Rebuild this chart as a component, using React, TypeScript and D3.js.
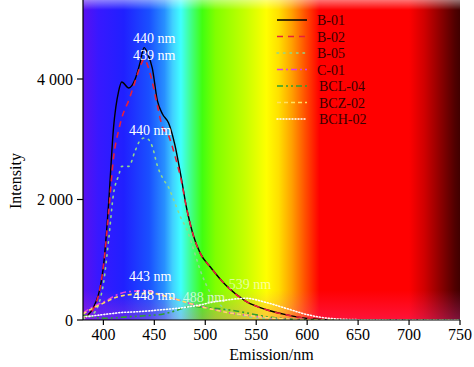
import React from "react";
import * as d3 from "d3";

// wavelength grid (nm) shared by all series
const wavelengths = [380, 390, 400, 405, 410, 415, 418, 425, 431, 436, 440, 444, 448, 453, 458, 464, 470, 476, 482, 488, 495, 505, 520, 540, 560, 580, 600, 620, 650, 700, 750];

const b01 = [30, 200, 880, 1900, 3200, 3800, 3950, 3850, 3990, 4270, 4520, 4400, 4180, 3640, 3420, 3270, 2920, 2400, 1830, 1420, 1110, 880, 580, 310, 170, 85, 25, 5, 0, 0, 0];
const b02 = [40, 180, 890, 1750, 2700, 3150, 3350, 3650, 3950, 4200, 4330, 4200, 3950, 3560, 3200, 3060, 2740, 2350, 1830, 1420, 1110, 880, 580, 310, 170, 85, 25, 5, 0, 0, 0];
const b05 = [20, 100, 600, 1300, 2100, 2400, 2550, 2550, 2800, 2980, 3020, 3000, 2880, 2560, 2360, 2200, 1950, 1700, 1500, 1200, 830, 450, 180, 60, 20, 5, 0, 0, 0, 0, 0];
const c01 = [120, 220, 300, 340, 390, 430, 450, 470, 480, 485, 490, 490, 470, 440, 410, 380, 350, 320, 290, 260, 230, 190, 130, 80, 40, 15, 5, 0, 0, 0, 0];
const bcl04 = [80, 50, 30, 30, 35, 40, 45, 55, 60, 65, 70, 75, 80, 85, 95, 120, 150, 185, 215, 225, 215, 200, 175, 120, 55, 20, 5, 0, 0, 0, 0];
const bcz02 = [100, 200, 280, 320, 360, 390, 400, 420, 430, 435, 440, 445, 445, 430, 410, 380, 350, 320, 290, 260, 225, 185, 130, 80, 40, 15, 5, 0, 0, 0, 0];
const bch02 = [50, 70, 90, 100, 110, 120, 125, 130, 135, 140, 145, 150, 155, 165, 170, 180, 190, 200, 215, 230, 250, 290, 330, 360, 290, 190, 90, 30, 5, 0, 0];

const seriesNames = ["B-01", "B-02", "B-05", "C-01", "BCL-04", "BCZ-02", "BCH-02"];
const seriesValues = [b01, b02, b05, c01, bcl04, bcz02, bch02];
const seriesColors = ["#000000", "#e8203a", "#8fd88f", "#e040e0", "#30a030", "#ffe060", "#ffffff"];
const seriesDash = ["", "6,5", "1.5,5", "6,3,2,3", "6,3,2,3,2,3", "4,3", "1,2"];

// peak annotations
const peakLabels = ["440 nm", "439 nm", "440 nm", "443 nm", "488 nm", "448 nm", "539 nm"];
const peakWl = [440, 439, 440, 443, 488, 448, 539];
const labelOffset = [[10, -5], [11, 1], [6, -3], [3, -9], [11, -4], [2, 7], [5, -9]];
const labelOpacity = [1, 1, 1, 1, 0.7, 1, 0.6];

const xTicks = [400, 450, 500, 550, 600, 650, 700, 750];
const yTicks = [0, 2000, 4000];

// visible spectrum backdrop: wavelength -> colour
const spectrumStops: [number, string][] = [
  [380, "#5a10f0"], [395, "#3818ff"], [420, "#2020ff"], [445, "#1a50ff"], [460, "#2890ff"],
  [468, "#40d0ff"], [476, "#40ffff"], [488, "#40ff70"], [497, "#40ff10"], [510, "#80ff00"],
  [540, "#c8ff00"], [560, "#ffff00"], [572, "#ffe000"], [585, "#ffa000"], [598, "#ff5000"],
  [612, "#ff0000"], [700, "#ff0000"], [715, "#d00000"], [730, "#900000"], [745, "#500000"], [750, "#400000"],
];

const W = 474, H = 367;
const left = 83, right = 460, top = 0, bottom = 320;
const font = "'Liberation Serif', 'Times New Roman', serif";

export default function App() {
  const x = d3.scaleLinear().domain([380, 750]).range([left, right]);
  const y = d3.scaleLinear().domain([0, 4000]).range([bottom, 79]);
  const fmt = d3.formatLocale({ decimal: ".", thousands: " ", grouping: [3], currency: ["", ""] }).format(",d");

  const line = d3.line<number>()
    .x((_, i) => x(wavelengths[i]))
    .y((d) => y(d))
    .curve(d3.curveMonotoneX);

  const plotW = right - left;

  return (
    <svg width={W} height={H} style={{ position: "absolute", left: 0, top: 0, background: "#fff" }} fontFamily={font}>
      <defs>
        <linearGradient id="spec" gradientUnits="userSpaceOnUse" x1={left} x2={right} y1={0} y2={0}>
          {spectrumStops.map(([wl, c], i) => (
            <stop key={i} offset={(x(wl) - left) / plotW} stopColor={c} />
          ))}
        </linearGradient>
        <linearGradient id="topGlow" x1="0" x2="0" y1="0" y2="1">
          <stop offset="0" stopColor="#ffffff" stopOpacity={0.45} />
          <stop offset="1" stopColor="#ffffff" stopOpacity={0} />
        </linearGradient>
        <linearGradient id="botGlow" x1="0" x2="0" y1="0" y2="1">
          <stop offset="0" stopColor="#ff40c0" stopOpacity={0} />
          <stop offset="1" stopColor="#ff40c0" stopOpacity={0.3} />
        </linearGradient>
        <clipPath id="plot">
          <rect x={left} y={top} width={plotW} height={bottom - top} />
        </clipPath>
      </defs>

      <rect x={left} y={top} width={plotW} height={bottom - top} fill="url(#spec)" />
      <rect x={left} y={top} width={plotW} height={10} fill="url(#topGlow)" />
      <rect x={left} y={bottom - 30} width={plotW} height={30} fill="url(#botGlow)" />

      <g clipPath="url(#plot)">
        {seriesValues.map((vals, i) => (
          <path
            key={seriesNames[i]}
            d={line(vals) || ""}
            fill="none"
            stroke={seriesColors[i]}
            strokeWidth={i === 0 ? 1.4 : 1.6}
            strokeDasharray={seriesDash[i] || undefined}
            strokeLinecap={i === 2 || i === 6 ? "round" : "butt"}
          />
        ))}
      </g>

      {peakLabels.map((t, i) => {
        const wl = peakWl[i];
        const idx = wavelengths.indexOf(wl);
        const pv = idx >= 0 ? seriesValues[i][idx] : d3.max(seriesValues[i])!;
        return (
          <text
            key={i}
            x={x(wl) + labelOffset[i][0]}
            y={y(pv) + labelOffset[i][1]}
            textAnchor="middle"
            fontSize={14}
            fill="#ffffff"
            fillOpacity={labelOpacity[i]}
          >
            {t}
          </text>
        );
      })}

      {/* legend */}
      <g>
        {seriesNames.map((n, i) => {
          const ly = 20 + i * 16.5;
          return (
            <g key={n}>
              <line x1={277} x2={307} y1={ly} y2={ly} stroke={seriesColors[i]} strokeWidth={1.5}
                strokeDasharray={seriesDash[i] || undefined} strokeLinecap={i === 2 || i === 6 ? "round" : "butt"} />
              <text x={i >= 4 ? 319 : 317} y={ly + 5} fontSize={14} fill="#3a0000">{n}</text>
            </g>
          );
        })}
      </g>

      {/* axes */}
      <line x1={left} x2={left} y1={top} y2={bottom} stroke="#000" strokeWidth={1.2} />
      <line x1={left} x2={right} y1={bottom} y2={bottom} stroke="#000" strokeWidth={1.2} />
      {yTicks.map((t) => (
        <g key={t}>
          <line x1={left - 6} x2={left} y1={y(t)} y2={y(t)} stroke="#000" strokeWidth={1.2} />
          <text x={left - 10} y={y(t) + 5.5} textAnchor="end" fontSize={16} fill="#000">{fmt(t)}</text>
        </g>
      ))}
      {xTicks.map((t) => (
        <g key={t}>
          <line x1={x(t)} x2={x(t)} y1={bottom} y2={bottom + 5} stroke="#000" strokeWidth={1.2} />
          <text x={x(t)} y={bottom + 20} textAnchor="middle" fontSize={16} fill="#000">{t}</text>
        </g>
      ))}
      <text x={(left + right) / 2} y={360} textAnchor="middle" fontSize={16} fill="#000">Emission/nm</text>
      <text transform={`translate(21,181) rotate(-90)`} textAnchor="middle" fontSize={16} fill="#000">Intensity</text>
    </svg>
  );
}
